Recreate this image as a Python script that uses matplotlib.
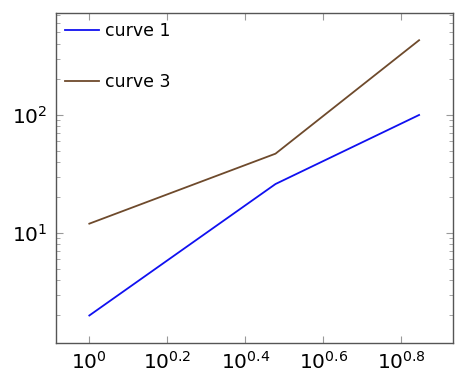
import matplotlib.pyplot as plt
from matplotlib.ticker import FixedLocator, FixedFormatter, LogLocator, NullFormatter

# data
x = [1, 3, 7]
curve1 = [2, 26, 100]
curve3 = [12, 47, 430]
labels = ["curve 1", "curve 3"]
xtick_exps = [0, 0.2, 0.4, 0.6, 0.8]

plt.rcParams["mathtext.fontset"] = "dejavusans"

fig = plt.figure(figsize=(4.74, 3.89), dpi=100)
ax = fig.add_axes([56 / 474, 1 - 343 / 389, 397 / 474, 330 / 389])

ax.plot(x, curve1, color="#1010f0", lw=1.3, label=labels[0])
ax.plot(x, curve3, color="#6e4a2c", lw=1.3, label=labels[1])

ax.set_xscale("log")
ax.set_yscale("log")
ax.set_xlim(10 ** -0.0854, 10 ** 0.932)
ax.set_ylim(10 ** 0.068, 10 ** 2.864)

ax.xaxis.set_major_locator(FixedLocator([10 ** e for e in xtick_exps]))
ax.xaxis.set_major_formatter(FixedFormatter(["$10^{%g}$" % e for e in xtick_exps]))
ax.xaxis.set_minor_locator(FixedLocator([]))
ax.yaxis.set_major_locator(LogLocator(base=10))
ax.yaxis.set_minor_locator(LogLocator(base=10, subs=range(2, 10)))
ax.yaxis.set_minor_formatter(NullFormatter())

ax.tick_params(which="both", direction="in", top=True, right=True,
               color="#999999", labelsize=14.5, pad=6)
ax.tick_params(which="major", length=5)
ax.tick_params(which="minor", length=3)
for s in ax.spines.values():
    s.set_color("#555555")
    s.set_linewidth(1.0)

ax.legend(loc="upper left", frameon=False, fontsize=12.5, handlelength=1.95,
          handletextpad=0.35, labelspacing=1.9, borderaxespad=0.1,
          bbox_to_anchor=(0.0, 1.0))

fig.savefig("out.png", dpi=100)
